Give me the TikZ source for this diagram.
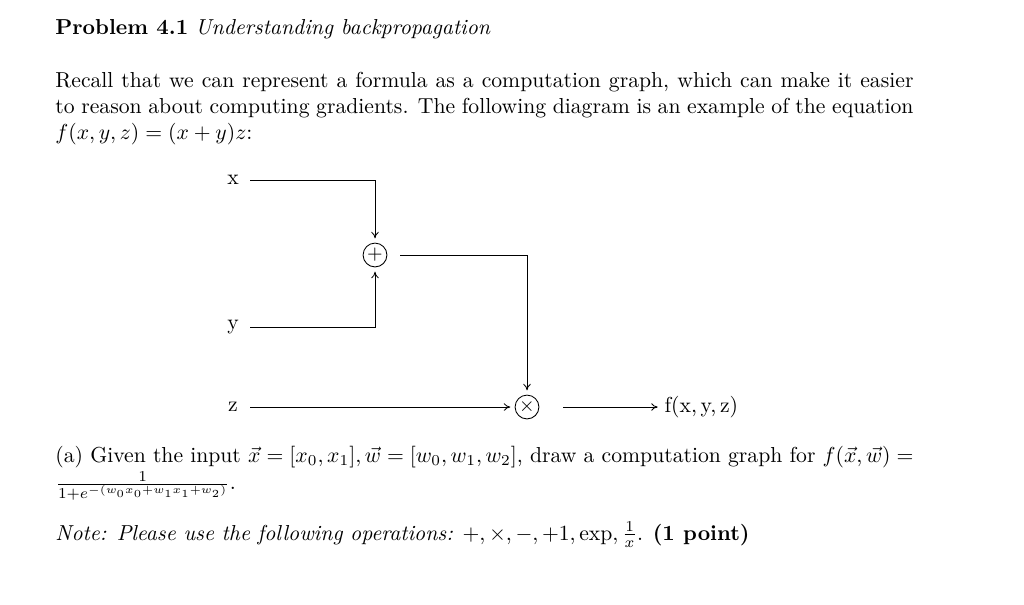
\documentclass[tikz,border=0pt]{standalone}
\usepackage{amsmath}
\usetikzlibrary{arrows.meta}
\begin{document}
\begin{tikzpicture}[x=0.4615pt,y=-0.4615pt,
  txt/.style={anchor=base west,inner sep=0pt},
  lbl/.style={inner sep=1pt},
  op/.style={draw,circle,minimum size=11pt,inner sep=0pt,font=\small},
  conn/.style={line width=0.4pt},
  arr/.style={conn,-{To[length=3pt,width=3.5pt]},shorten >=2pt}]
\useasboundingbox (0,0) rectangle (1024,604);
\node[txt] (t) at (55,34) {\textbf{Problem 4.1} \textit{Understanding backpropagation}};
\node[txt] (p1) at (55,87) {\hbox to 396pt{Recall that we can represent a formula as a computation graph, which can make it easier}};
\node[txt] (p2) at (55,113) {\hbox to 396pt{to reason about computing gradients. The following diagram is an example of the equation}};
\node[txt] (p3) at (55,139) {$f(x,y,z)=(x+y)z$:};
% diagram
\node[lbl] (x) at (233,180) {x};
\node[lbl] (y) at (233,327) {y};
\node[lbl] (z) at (233,407) {z};
\node[op] (plus) at (375,255) {$+$};
\node[op] (times) at (527,407) {$\times$};
\node[lbl,anchor=west] (f) at (662,407) {f(x,\,y,\,z)};
\coordinate (c1) at (375,180);
\coordinate (c2) at (375,327);
\coordinate (c3) at (527,255);
\draw[arr] (250,180) -- (c1) -- (plus.north);
\draw[arr] (250,327) -- (c2) -- (plus.south);
\draw[arr] ([xshift=6pt]plus.east) -- (c3) -- (times.north);
\draw[arr] (250,407) -- (times.west);
\draw[arr] ([xshift=11pt]times.east) -- (f.west);
% part a
\node[txt] (a1) at (55,462) {\hbox to 396pt{(a) Given the input $\vec{x}=[x_0,x_1],\vec{w}=[w_0,w_1,w_2]$, draw a computation graph for $f(\vec{x},\vec{w})=$}};
\node[anchor=west,inner sep=0pt] (a2) at (55,486) {$\frac{1}{1+e^{-(w_0x_0+w_1x_1+w_2)}}$.};
\node[txt] (n) at (55,540) {\textit{Note: Please use the following operations:} $+,\times,-,+1,\exp,\frac{1}{x}$. \textbf{(1 point)}};
\end{tikzpicture}
\end{document}
